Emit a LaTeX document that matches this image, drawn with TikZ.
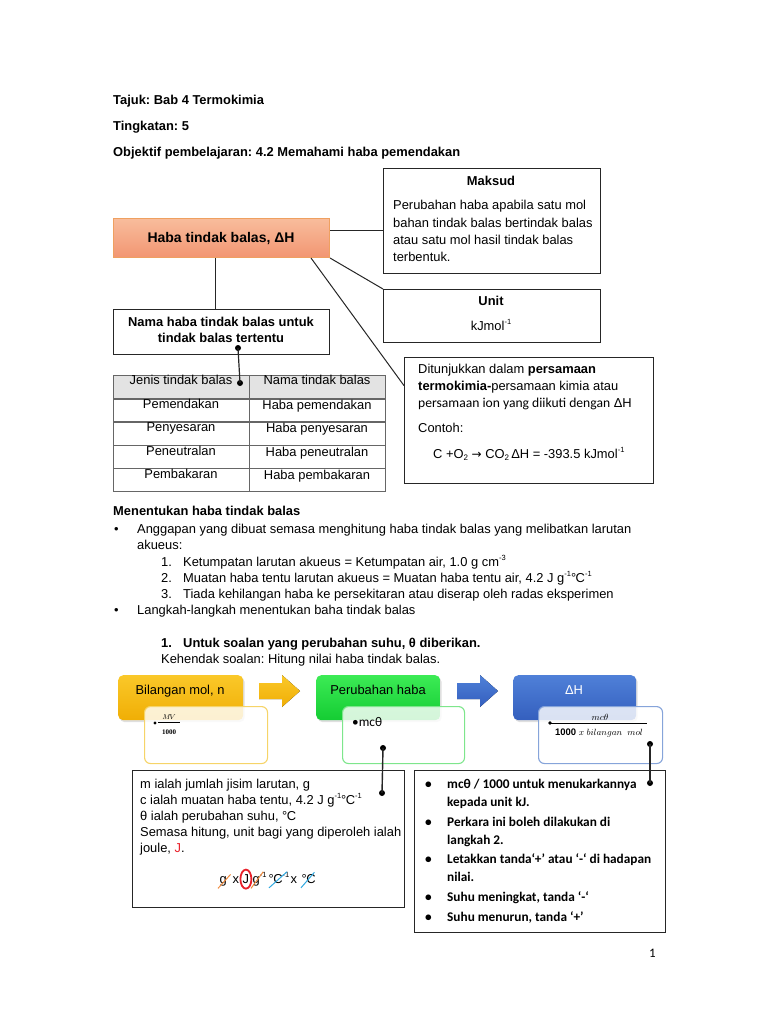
\documentclass[tikz,border=0pt]{standalone}
\usepackage{fontspec}
\setmainfont{Liberation Sans}
\newfontfamily\carlito{Carlito}
\newfontfamily\lserif{Liberation Serif}
\newfontfamily\dejavu{DejaVu Sans}
\usetikzlibrary{shadows}
\frenchspacing
\newcommand\supx[1]{\raisebox{0.42em}{\fontsize{7.5}{8}\selectfont #1}}
\newcommand\subx[1]{\raisebox{-0.2em}{\fontsize{8}{8}\selectfont #1}}
\newcommand\degC{°\kern-0.5pt C}
\definecolor{orangetop}{HTML}{F8BC9C}
\definecolor{orangebot}{HTML}{F29672}
\definecolor{orangeedge}{HTML}{EFA060}
\definecolor{yeltop}{HTML}{FAC829}
\definecolor{yelbot}{HTML}{F0AE05}
\definecolor{yeledge}{HTML}{F6D468}
\definecolor{grntop}{HTML}{3CEB55}
\definecolor{grnbot}{HTML}{14CC33}
\definecolor{grnedge}{HTML}{7EE68C}
\definecolor{blutop}{HTML}{4F80D8}
\definecolor{blubot}{HTML}{345FBE}
\definecolor{bluedge}{HTML}{86A4DA}
\definecolor{slashorange}{HTML}{F08A3C}
\definecolor{slashblue}{HTML}{2FA8E0}
\definecolor{redJ}{HTML}{E8202A}
\begin{document}
\begin{tikzpicture}[x=1pt,y=-1pt,
  every node/.style={font=\fontsize{12.9}{15}\selectfont},
  txt/.style={inner sep=0pt, anchor=base west},
  ctxt/.style={inner sep=0pt, anchor=base},
  frame/.style={draw=black!85, line width=1.2pt, inner sep=0pt, anchor=north west},
  cell/.style={draw=black!60, line width=1.4pt, inner sep=0pt, anchor=north west, minimum width=136pt, minimum height=23.2pt},
  link/.style={draw=black!85, line width=1pt},
  dotc/.style={fill=black, circle, inner sep=0pt, minimum size=6pt},
  colbox/.style={rounded corners=5pt, inner sep=0pt, anchor=north west, minimum height=45pt, minimum width=123pt,
     drop shadow={opacity=0.25, shadow xshift=1.5pt, shadow yshift=-2pt}},
  inbox/.style={rounded corners=6pt, inner sep=0pt, anchor=north west, minimum height=57pt, minimum width=123pt,
     fill=white, fill opacity=0.82, line width=1.1pt},
  rcar/.style={font=\fontsize{13.3}{15}\selectfont\carlito\bfseries},
  tiny/.style={inner sep=0pt, anchor=base, font=\fontsize{7}{8}\selectfont},
]
\useasboundingbox (0,0) rectangle (768,1024);

% ---- header ----
\node[txt, font=\fontsize{12.9}{15}\selectfont\bfseries] (h1) at (113,105) {Tajuk: Bab 4 Termokimia};
\node[txt, font=\fontsize{12.9}{15}\selectfont\bfseries] (h2) at (113,131) {Tingkatan: 5};
\node[txt, font=\fontsize{12.9}{15}\selectfont\bfseries] (h3) at (113,157) {Objektif pembelajaran: 4.2 Memahami haba pemendakan};

% ---- boxes top ----
\node[frame, minimum width=217pt, minimum height=105pt] (maksud) at (383,168) {};
\node[ctxt, font=\fontsize{12.9}{15}\selectfont\bfseries] (maksudT) at (491,186) {Maksud};
\node[txt] (m1) at (393,210) {Perubahan haba apabila satu mol};
\node[txt] (m2) at (393,227) {bahan tindak balas bertindak balas};
\node[txt] (m3) at (393,244) {atau satu mol hasil tindak balas};
\node[txt] (m4) at (393,261) {terbentuk.};

\node[inner sep=0pt, anchor=north west, minimum width=216pt, minimum height=39pt,
      top color=orangetop, bottom color=orangebot, draw=orangeedge, line width=1pt] (orange) at (113,218) {};
\node[ctxt, font=\fontsize{14}{16}\selectfont\bfseries] (orangeT) at (221,242) {Haba tindak balas, ΔH};

\node[frame, minimum width=217pt, minimum height=53pt] (unit) at (383,289) {};
\node[ctxt, font=\fontsize{12.9}{15}\selectfont\bfseries] (unitT) at (491,305) {Unit};
\node[ctxt] (unitV) at (491,330) {kJmol\supx{-1}};

\node[frame, minimum width=216pt, minimum height=45pt] (nama) at (113,309) {};
\node[ctxt, font=\fontsize{12.9}{15}\selectfont\bfseries] (n1) at (221,326) {Nama haba tindak balas untuk};
\node[ctxt, font=\fontsize{12.9}{15}\selectfont\bfseries] (n2) at (221,342) {tindak balas tertentu};

\node[frame, minimum width=249pt, minimum height=126pt] (ditunjuk) at (404,357) {};
\node[txt] (d1) at (418,373) {Ditunjukkan dalam \textbf{persamaan}};
\node[txt] (d2) at (418,390) {\textbf{termokimia-}persamaan kimia atau};
\node[txt] (d3) at (418,407) {{\carlito\fontsize{13.6}{15}\selectfont persamaan ion yang diikuti dengan} ΔH};
\node[txt] (d4) at (418,432) {Contoh:};
\node[txt] (d5) at (433,458) {C +O\subx{2} {\dejavu\fontsize{12}{14}\selectfont →} CO\subx{2}\,ΔH = -393.5 kJmol\supx{-1}};

% connectors top
\draw[link] ([yshift=7.5pt]orange.east) -- ([yshift=7.5pt]orange.east -| maksud.west);
\draw[link] (orange.south east) -- (unit.north west);
\draw[link] ([xshift=-19pt]orange.south east) -- ([yshift=35pt]ditunjuk.west);
\draw[link] ([xshift=-6pt]orange.south) -- ([xshift=-6pt]orange.south |- nama.north);

% ---- table ----
\node[cell, fill=black!11] (c11) at (113,375) {};
\node[cell, fill=black!11] (c12) at (249,375) {};
\foreach \r/\y in {2/398.2,3/421.4,4/444.6,5/467.8}{
  \node[cell] (c\r1) at (113,\y) {};
  \node[cell] (c\r2) at (249,\y) {};
}
\node[ctxt] (t11) at (181,384.5) {Jenis tindak balas};
\node[ctxt] (t12) at (317,384.5) {Nama tindak balas};
\node[ctxt] (t21) at (181,408) {Pemendakan};
\node[ctxt] (t22) at (317,409) {Haba pemendakan};
\node[ctxt] (t31) at (181,431) {Penyesaran};
\node[ctxt] (t32) at (317,432) {Haba penyesaran};
\node[ctxt] (t41) at (181,455) {Peneutralan};
\node[ctxt] (t42) at (317,456) {Haba peneutralan};
\node[ctxt] (t51) at (181,478) {Pembakaran};
\node[ctxt] (t52) at (317,479) {Haba pembakaran};

\node[dotc] (dotA) at (238,348) {};
\node[dotc] (dotB) at (240,383) {};
\draw[link, line width=1.2pt] (dotA.center) -- (dotB.center);

% ---- text section ----
\node[txt, font=\fontsize{12.9}{15}\selectfont\bfseries] (s0) at (113,515) {Menentukan haba tindak balas};
\node[txt] (b1) at (114,533) {•};
\node[txt] (s1) at (137,533) {Anggapan yang dibuat semasa menghitung haba tindak balas yang melibatkan larutan};
\node[txt] (s2) at (137,549) {akueus:};
\node[txt] (k1) at (161,566) {1.};
\node[txt] (s3) at (183,566) {Ketumpatan larutan akueus = Ketumpatan air, 1.0 g cm\supx{-3}};
\node[txt] (k2) at (161,582) {2.};
\node[txt] (s4) at (183,582) {Muatan haba tentu larutan akueus = Muatan haba tentu air, 4.2 J g\supx{-1}\degC\supx{-1}};
\node[txt] (k3) at (161,598) {3.};
\node[txt] (s5) at (183,598) {Tiada kehilangan haba ke persekitaran atau diserap oleh radas eksperimen};
\node[txt] (b2) at (114,614) {•};
\node[txt] (s6) at (137,614) {Langkah-langkah menentukan baha tindak balas};
\node[txt, font=\fontsize{12.9}{15}\selectfont\bfseries] (k4) at (161,647) {1.};
\node[txt, font=\fontsize{12.9}{15}\selectfont\bfseries] (s7) at (183,647) {Untuk soalan yang perubahan suhu, θ diberikan.};
\node[txt] (s8) at (161,663) {Kehendak soalan: Hitung nilai haba tindak balas.};

% ---- coloured flow ----
\node[colbox, minimum width=125pt, top color=yeltop, bottom color=yelbot] (yel) at (118,675) {};
\node[colbox, minimum width=124pt, top color=grntop, bottom color=grnbot] (grn) at (316,675) {};
\node[colbox, minimum width=123pt, top color=blutop, bottom color=blubot] (blu) at (513,675) {};

\fill[top color=yeltop, bottom color=yelbot] (259,683) -- (282,683) -- (282,675) -- (300,691) -- (282,707) -- (282,699) -- (259,699) -- cycle;
\fill[top color=blutop, bottom color=blubot] (457,683) -- (480,683) -- (480,675) -- (498,691) -- (480,707) -- (480,699) -- (457,699) -- cycle;

\node[inbox, draw=yeledge] (yin) at (144,706) {};
\node[inbox, draw=grnedge, minimum width=122pt] (gin) at (342,706) {};
\node[inbox, draw=bluedge, minimum width=124pt] (bin) at (538,706) {};

\node[ctxt] (yelT) at (180,694) {Bilangan mol, n};
\node[ctxt] (grnT) at (378,694) {Perubahan haba};
\node[ctxt, text=white] (bluT) at (574,694) {ΔH};

% formulas
\fill (155,723) circle (1.6);
\node[tiny] (fMV) at (169,719) {$M\!V$};
\draw[line width=0.6pt] (158,722.5) -- (180,722.5);
\node[tiny, font=\fontsize{7}{8}\selectfont\lserif\bfseries] (f1000) at (169,734) {1000};

\node[txt, font=\fontsize{13.3}{15}\selectfont\carlito] (fmc) at (352,726) {•mcθ};

\fill (550,723) circle (1.8);
\draw[line width=0.7pt] (550,723) -- (647,723);
\node[tiny, font=\fontsize{9.5}{10}\selectfont] (fnum) at (600,720) {$mc\theta$};
\node[tiny, font=\fontsize{9.5}{10}\selectfont] (fden) at (599,735.5) {$\mathbf{1000}\;x\;bilangan\;\;mol$};

% ---- bottom boxes ----
\node[frame, line width=1.4pt, minimum width=272pt, minimum height=137pt] (bl) at (132,770) {};
\node[txt] (l1) at (140,788) {m ialah jumlah jisim larutan, g};
\node[txt] (l2) at (140,804) {c ialah muatan haba tentu, 4.2 J g\supx{-1}\degC\supx{-1}};
\node[txt] (l3) at (140,820) {θ ialah perubahan suhu,  \degC};
\node[txt] (l4) at (140,836) {Semasa hitung, unit bagi yang diperoleh ialah};
\node[txt] (l5) at (140,852) {joule, \textcolor{redJ}{J}.};

\node[txt, inner sep=0.5pt] (ug) at (219,883) {g};
\node[txt, inner sep=0.5pt] (ux1) at (232,883) {x};
\node[txt, inner sep=0.5pt] (uJ) at (242,883) {J};
\node[txt, inner sep=0.5pt] (ug2) at (252,883) {g\supx{-1}};
\node[txt, inner sep=0.5pt] (uC1) at (268,883) {\degC\supx{-1}};
\node[txt, inner sep=0.5pt] (ux2) at (290,883) {x};
\node[txt, inner sep=0.5pt] (uC2) at (301,883) {\degC};
\draw[slashorange, line width=1pt] ([xshift=-1pt,yshift=-2pt]ug.south west) -- ([xshift=3pt,yshift=1pt]ug.north east);
\draw[slashorange, line width=1pt] ([xshift=-1pt,yshift=-2pt]ug2.south west) -- ([xshift=-4pt,yshift=0pt]ug2.north east);
\draw[slashblue, line width=1pt] ([xshift=1pt,yshift=-4pt]uC1.south west) -- ([xshift=-3pt,yshift=0pt]uC1.north east);
\draw[slashblue, line width=1pt] ([xshift=0pt,yshift=-4pt]uC2.south west) -- ([xshift=-2pt,yshift=1pt]uC2.north east);
\draw[redJ, line width=1.8pt] ([yshift=-0.5pt]uJ.center) ellipse (5.5 and 9.5);

\node[frame, line width=1.4pt, minimum width=251pt, minimum height=162pt] (br) at (414,770) {};
\node[txt, rcar] (r1b) at (425,788) {•};
\node[txt, rcar] (r1) at (447,788) {mcθ / 1000 untuk menukarkannya};
\node[txt, rcar] (r1c) at (447,806) {kepada unit kJ.};
\node[txt, rcar] (r2b) at (425,826) {•};
\node[txt, rcar] (r2) at (447,826) {Perkara ini boleh dilakukan di};
\node[txt, rcar] (r2c) at (447,844) {langkah 2.};
\node[txt, rcar] (r3b) at (425,863) {•};
\node[txt, rcar] (r3) at (447,863) {Letakkan tanda‘+’ atau ‘-‘ di hadapan};
\node[txt, rcar] (r3c) at (447,881) {nilai.};
\node[txt, rcar] (r4b) at (425,901) {•};
\node[txt, rcar] (r4) at (447,901) {Suhu meningkat, tanda ‘-‘};
\node[txt, rcar] (r5b) at (425,921) {•};
\node[txt, rcar] (r5) at (447,921) {Suhu menurun, tanda ‘+’};

% dots & connectors bottom
\node[dotc] (dotC) at (383,748) {};
\node[dotc] (dotD) at (382,793) {};
\draw[link, line width=1.4pt] (dotC.center) -- (dotD.center);
\node[dotc] (dotE) at (650,744) {};
\node[dotc] (dotF) at (650,783) {};
\draw[link, line width=1.4pt] (dotE.center) -- (dotF.center);

\node[txt, font=\fontsize{13}{15}\selectfont\carlito] (pg) at (649,957) {1};
\end{tikzpicture}
\end{document}
